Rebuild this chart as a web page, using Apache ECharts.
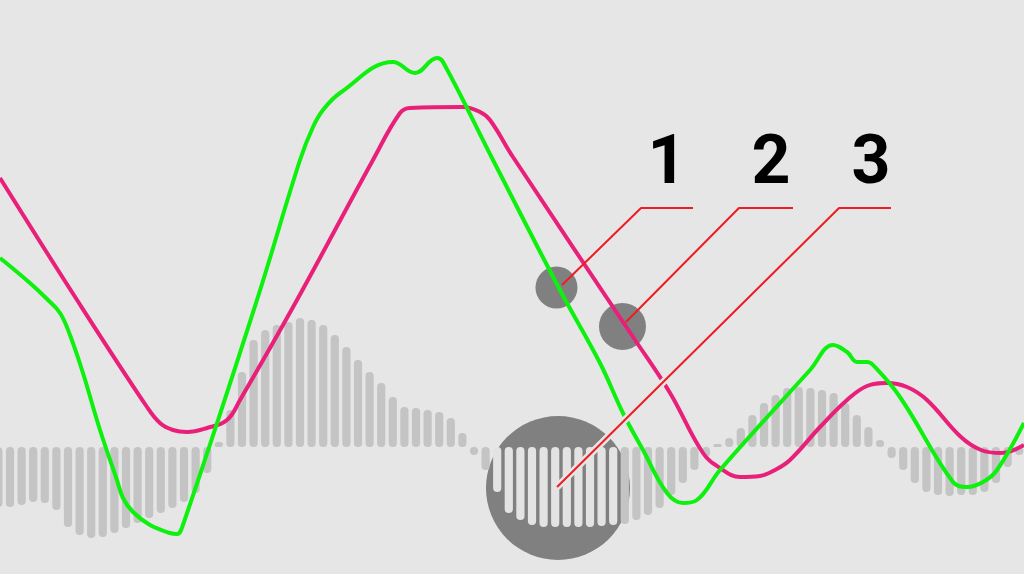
<!DOCTYPE html>
<html>
<head>
<meta charset="utf-8">
<script src="https://cdn.jsdelivr.net/npm/echarts@6/dist/echarts.min.js"></script>
<style>
html,body{margin:0;padding:0;background:#e6e6e6;}
#c{width:1024px;height:574px;}
</style>
</head>
<body>
<div id="c"></div>
<script>
// Histogram bars: index -1..87, values
const barIndex = [];
for (let k = -1; k <= 87; k++) barIndex.push(k);
const histValues = [
  -0.60,
  -0.60,-0.58,-0.55,-0.56,-0.63,-0.80,-0.88,-0.91,-0.90,-0.86,
  -0.81,-0.76,-0.71,-0.66,-0.61,-0.55,-0.46,-0.26,0.05,0.37,
  0.75,1.07,1.17,1.22,1.25,1.29,1.27,1.22,1.12,1.00,
  0.87,0.75,0.64,0.50,0.40,0.39,0.37,0.35,0.29,0.14,
  -0.08,-0.23,-0.45,-0.66,-0.73,-0.78,-0.80,-0.80,-0.80,-0.80,
  -0.80,-0.79,-0.78,-0.77,-0.73,-0.68,-0.61,-0.48,-0.36,-0.23,
  -0.10,0.03,0.09,0.19,0.32,0.44,0.52,0.59,0.60,0.59,
  0.57,0.54,0.44,0.32,0.20,0.07,-0.11,-0.23,-0.36,-0.45,
  -0.48,-0.49,-0.48,-0.48,-0.45,-0.36,-0.20,-0.08
];
// bars shown magnified inside the big circle
const magnifiedFrom = 42, magnifiedTo = 52;

// MACD line (green)
const macdX = [-0.86,1.72,3.19,4.31,5.17,6.29,7.76,9.22,9.74,10.60,12.07,13.79,14.40,14.91,21.29,25.00,26.12,26.98,28.45,33.02,34.91,36.81,37.33,41.64,47.41,50.86,52.84,54.57,56.64,58.02,59.22,61.21,68.97,70.95,72.16,73.02,73.88,74.40,76.72,81.29,82.50,83.88,85.09,87.41];
const macdY = [1.89,1.64,1.48,1.34,1.12,0.74,0.17,-0.33,-0.51,-0.65,-0.78,-0.86,-0.87,-0.78,1.47,2.87,3.20,3.37,3.54,3.85,3.74,3.89,3.85,2.87,1.57,0.84,0.34,-0.03,-0.46,-0.56,-0.53,-0.23,0.77,1.02,0.95,0.85,0.85,0.82,0.50,-0.35,-0.40,-0.35,-0.23,0.24];

// Signal line (pink)
const signalX = [-0.86,5.78,11.81,12.93,14.05,15.26,16.98,18.71,19.83,24.74,31.29,33.62,34.48,39.05,40.52,41.38,43.36,53.71,56.90,59.74,61.21,62.93,64.66,65.95,67.24,69.83,72.16,73.88,75.60,77.33,79.05,81.98,83.71,85.43,87.41];
const signalY = [2.69,1.47,0.40,0.24,0.17,0.15,0.19,0.27,0.47,1.47,2.87,3.34,3.39,3.40,3.35,3.27,2.90,1.10,0.54,-0.06,-0.21,-0.30,-0.29,-0.23,-0.13,0.20,0.47,0.61,0.64,0.60,0.47,0.10,-0.03,-0.06,0.02];

// Highlight circles: [x, y] centre
const circle1 = [47.11, 1.595];
const circle2 = [52.80, 1.205];
const circle3 = [47.24, -0.41];

// Callout leaders (x list, y list)
const leader1X = [47.59, 54.40, 58.88], leader1Y = [1.62, 2.39, 2.39];
const leader2X = [53.10, 62.84, 67.50], leader2Y = [1.25, 2.39, 2.39];
const leader3X = [47.16, 71.47, 75.95], leader3Y = [-0.40, 2.39, 2.39];

// Callout labels
const labelText = ['1', '2', '3'];
const labelX = [56.64, 65.60, 74.22];
const labelY = [2.81, 2.81, 2.81];

const zip = (xs, ys) => xs.map((x, i) => [x, ys[i]]);

const barData = barIndex.map((k, i) => [k, histValues[i]]);

const chart = echarts.init(document.getElementById('c'), null, { renderer: 'canvas' });
const RED = '#ee1d23';
chart.setOption({
  backgroundColor: '#e6e6e6',
  animation: false,
  grid: { left: 0, right: 0, top: 0, bottom: 0 },
  xAxis: { type: 'value', min: -0.862, max: 87.414, show: false, splitLine: { show: false } },
  yAxis: { type: 'value', min: -1.27, max: 4.47, show: false, splitLine: { show: false } },
  series: [
    {
      type: 'scatter', z: 1, silent: true,
      data: [circle3], symbol: 'circle', symbolSize: 144,
      itemStyle: { color: '#808080', opacity: 1 }
    },
    {
      type: 'custom', z: 2, silent: true,
      data: barData,
      encode: { x: 0, y: 1 },
      renderItem: function (params, api) {
        const k = api.value(0), v = api.value(1);
        const base = api.coord([k, 0]);
        const top = api.coord([k, v]);
        const w = 8.2;
        const y0 = Math.min(base[1], top[1]);
        const h = Math.abs(base[1] - top[1]);
        const light = k >= magnifiedFrom && k <= magnifiedTo;
        return {
          type: 'rect',
          shape: { x: base[0] - w / 2, y: y0, width: w, height: h, r: Math.min(4, h / 2) },
          style: { fill: light ? '#e3e3e3' : '#c4c4c4' }
        };
      }
    },
    {
      type: 'scatter', z: 3, silent: true,
      data: [
        { value: circle1, symbolSize: 42 },
        { value: circle2, symbolSize: 47 }
      ],
      symbol: 'circle',
      itemStyle: { color: '#808080', opacity: 1 }
    },
    {
      type: 'line', z: 4, silent: true, symbol: 'none', smooth: 0.4,
      data: zip(signalX, signalY),
      lineStyle: { color: '#e8207a', width: 4 }
    },
    {
      type: 'line', z: 5, silent: true, symbol: 'none', smooth: 0.4,
      data: zip(macdX, macdY),
      lineStyle: { color: '#0ef00e', width: 4 }
    },
    {
      type: 'line', z: 6, silent: true, symbol: 'none',
      data: zip(leader3X, leader3Y),
      lineStyle: { color: '#e6e6e6', width: 7 }
    },
    {
      type: 'line', z: 7, silent: true, symbol: 'none',
      data: zip(leader1X, leader1Y),
      lineStyle: { color: RED, width: 2 }
    },
    {
      type: 'line', z: 7, silent: true, symbol: 'none',
      data: zip(leader2X, leader2Y),
      lineStyle: { color: RED, width: 2 }
    },
    {
      type: 'line', z: 7, silent: true, symbol: 'none',
      data: zip(leader3X, leader3Y),
      lineStyle: { color: RED, width: 2 }
    },
    {
      type: 'scatter', z: 8, silent: true, symbolSize: 0,
      itemStyle: { opacity: 1 },
      data: labelText.map((t, i) => ({ name: t, value: [labelX[i], labelY[i]] })),
      label: {
        show: true, position: 'inside', formatter: '{b}',
        color: '#000000', fontSize: 68, fontWeight: 'bold', fontFamily: 'Roboto',
        textBorderWidth: 0
      }
    }
  ]
});
</script>
</body>
</html>
